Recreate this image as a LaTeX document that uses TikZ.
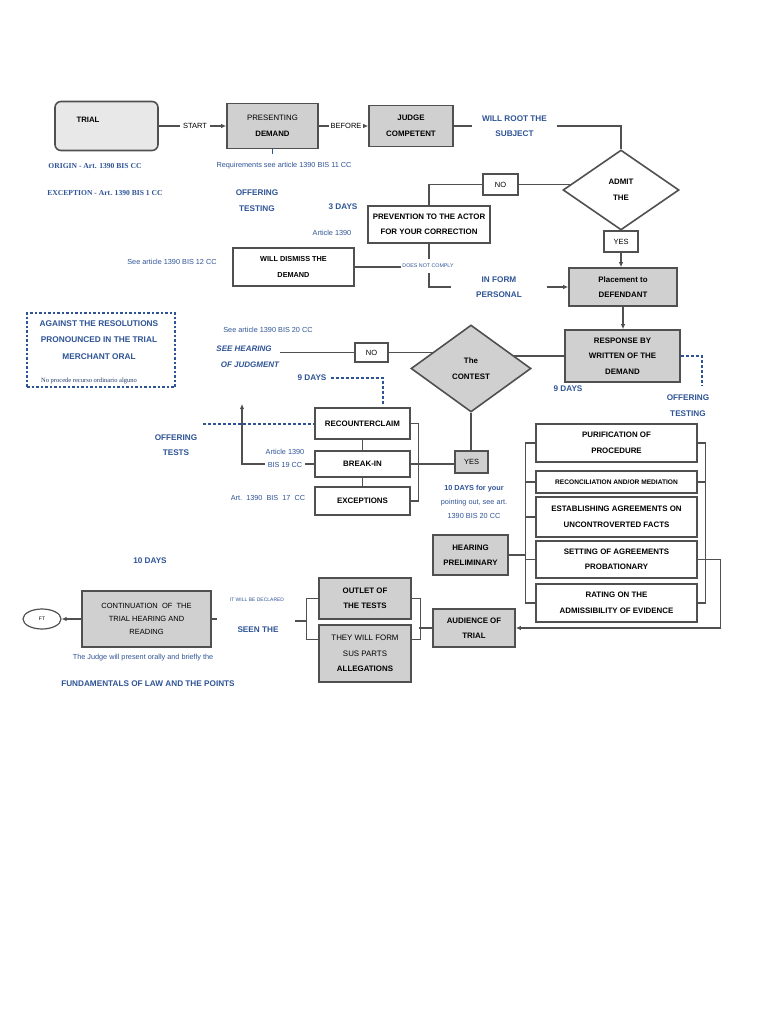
\documentclass[tikz,border=0pt]{standalone}
\usepackage{fontspec}
\setmainfont{Liberation Sans}
\newfontfamily\serifff{Liberation Serif}
\usetikzlibrary{shapes.geometric,arrows.meta,calc}
\definecolor{myblue}{RGB}{47,84,150}
\definecolor{boxgray}{RGB}{208,208,208}
\definecolor{edgec}{RGB}{80,80,80}
\pgfdeclarelayer{bg}
\pgfsetlayers{bg,main}
\tikzset{
  bx/.style={draw=edgec, line width=1.6pt, inner sep=1pt, align=center, text=black,
    font=\bfseries\fontsize{7.9}{15.5}\selectfont},
  gbox/.style={bx, fill=boxgray},
  wbox/.style={bx, fill=white},
  nfont/.style={font=\fontsize{7.5}{9}\selectfont},
  bl/.style={text=myblue, font=\bfseries\fontsize{8.2}{15.5}\selectfont, align=center, inner sep=1pt},
  bn/.style={text=myblue, font=\fontsize{7.3}{13}\selectfont, align=center, inner sep=1pt},
  ln/.style={draw=edgec, line width=1.3pt},
  arr/.style={ln, -{Latex[length=5pt,width=4.5pt]}},
  dsh/.style={draw=myblue, line width=1.2pt, dash pattern=on 3pt off 2pt},
}
\begin{document}
\begin{tikzpicture}[x=1pt,y=-1pt]
\useasboundingbox (0,0) rectangle (768,1024);

% ---------- top row ----------
\node[bx, fill=black!9, rounded corners=6pt, minimum width=103, minimum height=49] (trial) at (106.5,126) {};
\node[font=\bfseries\fontsize{7.8}{9}\selectfont, inner sep=0pt] (trialt) at (88,120) {TRIAL};
\node[nfont, inner sep=3pt] (start) at (195,126) {START};
\node[gbox, minimum width=91, minimum height=45, font=\fontsize{7.8}{15.5}\selectfont] (pres) at (272.5,126) {PRESENTING\\\textbf{DEMAND}};
\node[nfont, inner sep=1pt] (before) at (346,126) {BEFORE};
\node[gbox, minimum width=84, minimum height=41] (judge) at (411,126) {JUDGE\\COMPETENT};
\node[bl, minimum width=85] (root) at (514.5,126) {WILL ROOT THE\\SUBJECT};

\node[text=myblue, font=\serifff\bfseries\fontsize{7.6}{9}\selectfont] (origin) at (95,166) {ORIGIN - Art. 1390 BIS CC};
\node[text=myblue, font=\serifff\bfseries\fontsize{7.6}{9}\selectfont] (exception) at (105,193) {EXCEPTION - Art. 1390 BIS 1 CC};
\node[bn] (req) at (284,166) {Requirements see article 1390 BIS 11 CC};
\node[bl] (offtop) at (257,200.5) {OFFERING\\TESTING};

% ---------- admit ----------
\node[diamond, draw=edgec, line width=1.6pt, fill=white, minimum width=116, minimum height=80, inner sep=0pt,
  align=center, font=\bfseries\fontsize{7.9}{15.5}\selectfont] (admit) at (621,190) {ADMIT\\THE};
\node[wbox, nfont, minimum width=35, minimum height=21] (no1) at (500.5,184.5) {NO};
\node[wbox, minimum width=122, minimum height=37] (prev) at (429,224.5) {PREVENTION TO THE ACTOR\\FOR YOUR CORRECTION};
\node[bl] (days3) at (343,207) {3 DAYS};
\node[bn] (art1390) at (332,233) {Article 1390};
\node[wbox, nfont, minimum width=34, minimum height=21] (yes1) at (621,241.5) {YES};
\node[gbox, minimum width=108, minimum height=38] (place) at (623,287) {Placement to\\DEFENDANT};
\node[wbox, minimum width=121, minimum height=38, font=\bfseries\fontsize{7.3}{15.5}\selectfont] (dismiss) at (293.5,267) {WILL DISMISS THE\\DEMAND};
\node[bn] (see12) at (172,262) {See article 1390 BIS 12 CC};
\node[text=myblue, font=\fontsize{5.3}{6}\selectfont, inner sep=1pt] (dnc) at (428,266) {DOES NOT COMPLY};
\node[bl, minimum width=96] (inform) at (499,287) {IN FORM\\PERSONAL};

% ---------- middle ----------
\node[draw=myblue, dash pattern=on 2.5pt off 2pt, line width=1.1pt, minimum width=148, minimum height=74] (against) at (101,350) {};
\node[bl, font=\bfseries\fontsize{8.3}{16.5}\selectfont] (againstt) at (99,340) {AGAINST THE RESOLUTIONS\\PRONOUNCED IN THE TRIAL\\MERCHANT ORAL};
\node[font=\serifff\fontsize{6.5}{8}\selectfont, text=myblue!70!black] (noproc) at (89,381) {No procede recurso ordinario alguno};

\node[bn] (see20) at (268,330) {See article 1390 BIS 20 CC};
\node[bl, font=\bfseries\itshape\fontsize{8}{15.5}\selectfont] (seeh) at (244,356.5) {SEE HEARING\\\hspace*{12pt}OF JUDGMENT};
\node[wbox, nfont, minimum width=33, minimum height=19] (no2) at (371.5,352.5) {NO};
\node[diamond, draw=edgec, line width=1.6pt, fill=boxgray, minimum width=120, minimum height=87, inner sep=0pt,
  align=center, font=\bfseries\fontsize{7.9}{15.5}\selectfont] (contest) at (471,368.5) {The\\CONTEST};
\node[gbox, minimum width=115, minimum height=52] (resp) at (622.5,356) {RESPONSE BY\\WRITTEN OF THE\\DEMAND};
\node[bl] (days9r) at (568,389) {9 DAYS};
\coordinate (d1) at (702,386);
\node[bl] (offr) at (688,405.5) {OFFERING\\TESTING};

\node[bl] (days9l) at (312,378) {9 DAYS};
\coordinate (d2) at (383,404);
\node[wbox, minimum width=95, minimum height=31] (recc) at (362.5,423.5) {RECOUNTERCLAIM};
\node[wbox, minimum width=95, minimum height=26] (brk) at (362.5,464) {BREAK-IN};
\node[wbox, minimum width=95, minimum height=28] (exc) at (362.5,501) {EXCEPTIONS};
\node[gbox, nfont, minimum width=33, minimum height=22] (yes2) at (471.5,462) {YES};
\coordinate (d3) at (203,424);
\coordinate (up) at (242,404);
\node[bn, fill=white, font=\fontsize{7.3}{13}\selectfont] (art19) at (285,458.5) {Article 1390\\BIS 19 CC};
\node[bl] (offt) at (176,445) {OFFERING\\TESTS};
\node[bn] (art17) at (268,498) {Art.\ \ 1390\ \ BIS\ \ 17\ \ CC};
\node[bn, font=\fontsize{7.3}{14}\selectfont] (days10y) at (474,502) {\textbf{10 DAYS for your}\\pointing out, see art.\\1390 BIS 20 CC};

% ---------- preliminary hearing ----------
\node[gbox, minimum width=75, minimum height=40] (hear) at (470.5,555) {HEARING\\PRELIMINARY};
\node[wbox, minimum width=161, minimum height=38] (pur) at (616.5,443) {PURIFICATION OF\\PROCEDURE};
\node[wbox, minimum width=161, minimum height=22, font=\bfseries\fontsize{6.6}{9}\selectfont] (rec) at (616.5,482) {RECONCILIATION AND/OR MEDIATION};
\node[wbox, minimum width=161, minimum height=40] (est) at (616.5,517) {ESTABLISHING AGREEMENTS ON\\UNCONTROVERTED FACTS};
\node[wbox, minimum width=161, minimum height=37] (set) at (616.5,559.5) {SETTING OF AGREEMENTS\\PROBATIONARY};
\node[wbox, minimum width=161, minimum height=38] (rat) at (616.5,603) {RATING ON THE\\ADMISSIBILITY OF EVIDENCE};

% ---------- bottom ----------
\node[gbox, minimum width=82, minimum height=38] (aud) at (474,628) {AUDIENCE OF\\TRIAL};
\node[gbox, minimum width=92, minimum height=41] (outl) at (365,598.5) {OUTLET OF\\THE TESTS};
\node[gbox, minimum width=92, minimum height=57] (form) at (365,653.5) {\mdseries THEY WILL FORM\\\mdseries SUS PARTS\\ALLEGATIONS};
\coordinate (s1) at (295,621);
\node[text=myblue, font=\fontsize{5}{6}\selectfont] (decl) at (257,600) {IT WILL BE DECLARED};
\node[bl] (seen) at (258,630) {SEEN THE};
\node[gbox, minimum width=129, minimum height=56, font=\fontsize{7.5}{13}\selectfont] (cont) at (146.5,619) {CONTINUATION\ \ OF\ \ THE\\TRIAL HEARING AND\\READING};
\node[ellipse, draw=edgec, line width=1.2pt, fill=white, minimum width=38, minimum height=20, inner sep=0pt, font=\fontsize{5}{6}\selectfont] (ft) at (42,619) {FT};
\node[bn] (jpres) at (143,658) {The Judge will present orally and briefly the};
\node[bl] (fund) at (148,684) {FUNDAMENTALS OF LAW AND THE POINTS};
\node[bl] (days10) at (150,561) {10 DAYS};

% ---------- connectors ----------
\begin{pgfonlayer}{bg}
\fill[white] (0,0) rectangle (768,1024);
\draw[ln] (trial.east) -- (start.west);
\draw[arr] (start.east) -- (pres.west);
\draw[ln] (pres.east) -- (before.west);
\draw[arr] (before.east) -- (judge.west);
\draw[draw=myblue, line width=0.6pt] (pres.south) -- ++(0,5);
\draw[ln] (judge.east) -- (root.west);
\draw[ln] (root.east) -| (admit.north);
\draw[ln] (no1.east) -- (no1.east -| admit.center);
\draw[ln] (no1.west) -| (prev.north);
\draw[ln] (admit.south) -- (yes1.north);
\draw[arr] (yes1.south) -- (yes1.south |- place.north);
\draw[ln] (dismiss.east) -- (dismiss.east -| dnc.west);
\draw[ln] (prev.south) -- ($(prev.south |- dnc.north)+(0,-4)$);
\draw[ln] ($(prev.south |- dnc.south)+(0,4)$) |- (inform.west);
\draw[arr] (inform.east) -- (place.west);
\draw[arr] (place.south) -- (place.south |- resp.north);
\draw[ln] (seeh.east |- no2.west) -- (no2.west);
\draw[ln] (no2.east) -- (no2.east -| contest.center);
\draw[ln] (resp.west) -- (resp.west -| contest.center);
\draw[dsh] (resp.east) -| (d1);
\draw[dsh] ([xshift=3pt]days9l.east) -| (d2);
\draw[ln] (recc.south) -- (brk.north);
\draw[ln] (brk.south) -- (exc.north);
\draw[ln] (recc.east) -| ([xshift=8pt]exc.east) -- (exc.east);
\draw[ln] (brk.east) -- (brk.east -| yes2.west);
\draw[ln] (contest.south) -- (contest.south |- yes2.north);
\draw[dsh] (d3) -- (d3 -| recc.west);
\draw[arr] (brk.west) -| (up);
\draw[ln] (pur.west) -- ++(-10,0) |- (rat.west);
\draw[ln] (rec.west) -- ++(-10,0);
\draw[ln] (est.west) -- ++(-10,0);
\draw[ln] (set.west) -- ++(-10,0);
\draw[ln] (hear.east) -- ($(hear.east -| pur.west)+(-10,0)$);
\draw[ln] (pur.east) -- ++(8,0) |- (rat.east);
\draw[ln] (rec.east) -- ++(8,0);
\draw[arr] (set.east) -- ++(23,0) |- (aud.east);
\draw[ln] (aud.west) -- ++(-13,0);
\draw[ln] (outl.east) -- ++(9,0) |- ([yshift=14pt]form.east);
\draw[ln] (outl.west) -- ++(-12,0) |- ([yshift=14pt]form.west);
\draw[ln] (s1) -- ++(12,0);
\draw[ln] (cont.east) -- ++(5,0);
\draw[arr] (cont.west) -- (ft.east);
\end{pgfonlayer}
\end{tikzpicture}
\end{document}
